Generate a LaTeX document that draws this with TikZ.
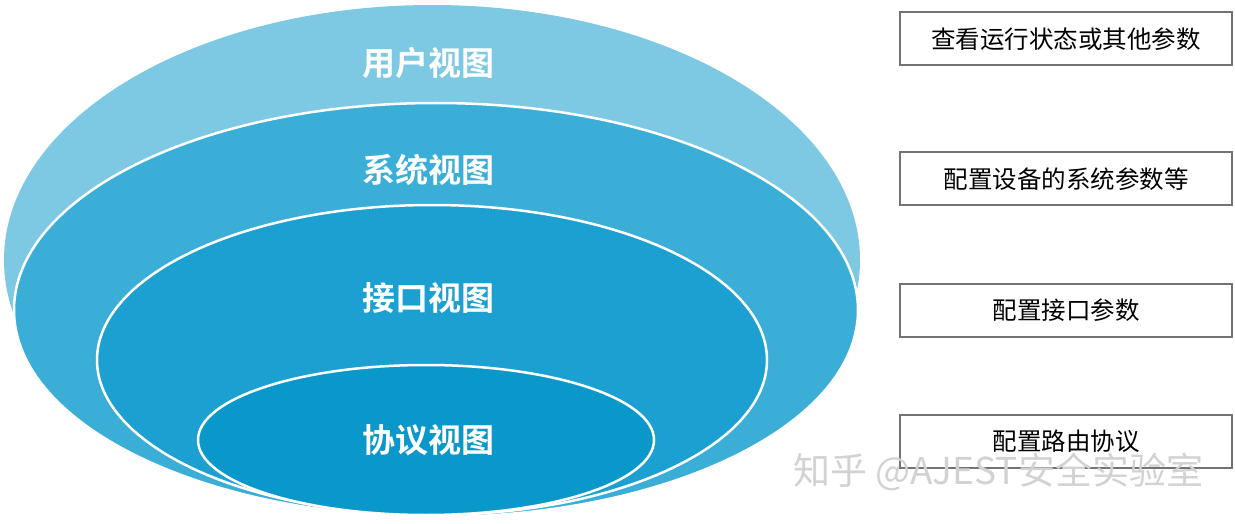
\documentclass[tikz,border=0pt]{standalone}
\usepackage{fontspec}
\newfontfamily\cjk{Noto Sans CJK SC}
\newfontfamily\cjkb{Noto Sans CJK SC Bold}
\definecolor{c1}{HTML}{7DC8E3}
\definecolor{c2}{HTML}{3BAED8}
\definecolor{c3}{HTML}{1CA0D1}
\definecolor{c4}{HTML}{0A97C9}
\tikzset{ring/.style={draw=white,line width=2.5pt},
lab/.style={text=white,font=\cjkb\fontsize{33}{33}\selectfont},
box/.style={draw=gray!90!black,line width=2pt,minimum width=332pt,minimum height=53pt,font=\cjk\fontsize{24.5}{24.5}\selectfont,inner sep=0pt}}
\begin{document}
\begin{tikzpicture}[x=1pt,y=-1pt]
\useasboundingbox (0,0) rectangle (1235,524);
\fill[c1] (432,260) ellipse [x radius=428,y radius=255];
\path[ring,fill=c2] (436,310) ellipse [x radius=422,y radius=207];
\path[ring,fill=c3] (432,360) ellipse [x radius=335,y radius=155];
\path[ring,fill=c4] (426,440) ellipse [x radius=228,y radius=75];
\node[lab] (u) at (428,63) {用户视图};
\node[lab] (s) at (428,170) {系统视图};
\node[lab] (i) at (428,298) {接口视图};
\node[lab] (p) at (428,440) {协议视图};
\node[box] (b1) at (1066,39) {查看运行状态或其他参数};
\node[box] (b2) at (1066,179) {配置设备的系统参数等};
\node[box] (b3) at (1066,310) {配置接口参数};
\node[box] (b4) at (1066,441) {配置路由协议};
\node[text=gray!35,font=\cjk\fontsize{37}{37}\selectfont,anchor=west,inner sep=0pt] (w) at (793,472) {知乎 @AJEST安全实验室};
\end{tikzpicture}
\end{document}
